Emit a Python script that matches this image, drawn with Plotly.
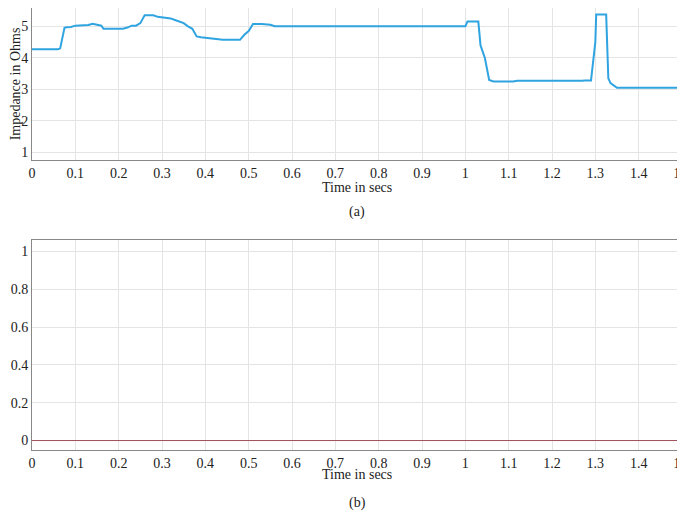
import plotly.graph_objects as go

# top panel: impedance vs time
time_a = [0, 0.06, 0.065, 0.07, 0.075, 0.08, 0.09, 0.1, 0.11, 0.13, 0.14, 0.15, 0.16, 0.165,
          0.18, 0.19, 0.2, 0.21, 0.22, 0.23, 0.24, 0.25, 0.26, 0.28, 0.29, 0.31, 0.32, 0.33,
          0.35, 0.36, 0.37, 0.38, 0.39, 0.41, 0.43, 0.44, 0.48, 0.49, 0.5, 0.51, 0.53, 0.55,
          0.56, 1.0, 1.005, 1.03, 1.035, 1.045, 1.055, 1.065, 1.11, 1.12, 1.27, 1.275, 1.29,
          1.3, 1.302, 1.325, 1.33, 1.335, 1.35, 1.5]
impedance = [4.27, 4.27, 4.3, 4.6, 4.95, 4.97, 4.98, 5.02, 5.03, 5.04, 5.08, 5.06, 5.02, 4.92,
             4.92, 4.94, 4.92, 4.92, 4.96, 5.02, 5.02, 5.1, 5.35, 5.35, 5.3, 5.28, 5.25, 5.2,
             5.1, 5.0, 4.92, 4.68, 4.65, 4.62, 4.6, 4.57, 4.57, 4.73, 4.85, 5.07, 5.07, 5.05,
             5.0, 5.0, 5.15, 5.15, 4.4, 4.0, 3.3, 3.25, 3.25, 3.27, 3.27, 3.28, 3.28,
             4.5, 5.37, 5.37, 3.35, 3.2, 3.05, 3.05]

# bottom panel: flat zero signal
time_b = [0, 1.5]
signal_b = [0, 0]

xticks = [0, 0.1, 0.2, 0.3, 0.4, 0.5, 0.6, 0.7, 0.8, 0.9, 1, 1.1, 1.2, 1.3, 1.4, 1.5]
xticklabels = ["0", "0.1", "0.2", "0.3", "0.4", "0.5", "0.6", "0.7", "0.8", "0.9",
               "1", "1.1", "1.2", "1.3", "1.4", "1.5"]

font = dict(family="Liberation Serif", size=14, color="#222")


def py(px):
    # page pixel -> paper coordinate (page has 8px body margin)
    return 1 - (px - 8) / 514


fig = go.Figure()
fig.add_trace(go.Scatter(x=time_a, y=impedance, mode="lines",
                         line=dict(color="#2fa4e0", width=2), xaxis="x", yaxis="y"))
fig.add_trace(go.Scatter(x=time_b, y=signal_b, mode="lines",
                         line=dict(color="#a0505a", width=1), xaxis="x2", yaxis="y2"))

axis_style = dict(showgrid=True, gridcolor="#e4e4e4", showline=True, linecolor="#888",
                  mirror=True, zeroline=False, ticks="", tickfont=font)

fig.update_layout(
    width=685, height=514,
    paper_bgcolor="white", plot_bgcolor="white",
    showlegend=False,
    margin=dict(l=24, r=11, t=0, b=0),
    xaxis=dict(axis_style, domain=[0, 1], range=[0, 1.5], tickvals=xticks,
               ticktext=xticklabels, anchor="y"),
    yaxis=dict(axis_style, domain=[py(160), 1.0], range=[0.76, 5.58], tickvals=[1, 2, 3, 4, 5],
               anchor="x", title=dict(text="Impedance in Ohms", font=font, standoff=4)),
    xaxis2=dict(axis_style, domain=[0, 1], range=[0, 1.5], tickvals=xticks,
                ticktext=xticklabels, anchor="y2"),
    yaxis2=dict(axis_style, domain=[py(450), py(240)], range=[-0.05, 1.06],
                tickvals=[0, 0.2, 0.4, 0.6, 0.8, 1], ticktext=["0", "0.2", "0.4", "0.6", "0.8", "1"],
                anchor="x2"),
    font=font,
)

for text, px in [("Time in secs", 187), ("(a)", 212), ("Time in secs", 474), ("(b)", 503)]:
    fig.add_annotation(text=text, x=0.5, y=py(px), xref="paper", yref="paper",
                       yanchor="middle", showarrow=False, font=font)

fig.write_html("out.html")
